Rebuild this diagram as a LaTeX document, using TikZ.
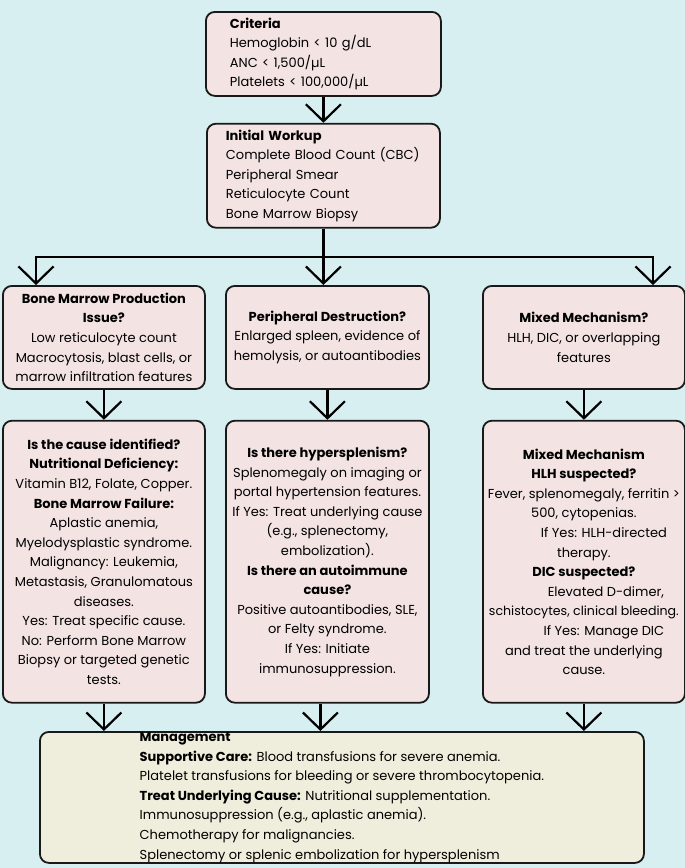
\documentclass[tikz,border=0pt]{standalone}
\usepackage{fontspec}
\setmainfont{Poppins}
\usetikzlibrary{positioning,arrows.meta}

\definecolor{bgcyan}{HTML}{D7EFF0}
\definecolor{boxpink}{HTML}{F3E3E3}
\definecolor{boxcream}{HTML}{EFEDDB}

\tikzset{
  box/.style={draw=black!90, line width=1.8pt, rounded corners=9pt, fill=boxpink,
    inner sep=0pt, align=center, font=\fontsize{13}{19.6}\selectfont},
  flow/.style={line width=2.2pt, line join=miter},
  barb/.tip={Straight Barb[length=17pt,width=35pt]},
  arr/.style={flow, -barb},
}

\begin{document}
\begin{tikzpicture}[x=1pt, y=-1pt]
  \fill[bgcyan] (0,0) rectangle (685,868);
  \useasboundingbox (0,0) rectangle (685,868);

  \node[box, anchor=north west, align=left, text width=187pt, inner xsep=24pt,
    minimum height=84pt] (criteria) at (205,11)
    {\textbf{Criteria}\\Hemoglobin < 10 g/dL\\ANC < 1,500/µL\\Platelets < 100,000/µL};
  \node[box, align=left, text width=195pt, inner xsep=19pt, minimum height=104pt,
    below=26pt of criteria] (workup)
    {\textbf{Initial Workup}\\Complete Blood Count (CBC)\\Peripheral Smear\\Reticulocyte Count\\Bone Marrow Biopsy};

  % first split
  \node[box, anchor=north west, minimum width=202pt, minimum height=103pt] (prod) at (2,285)
    {\textbf{Bone Marrow Production}\\\textbf{Issue?}\\Low reticulocyte count\\Macrocytosis, blast cells, or\\marrow infiltration features};
  \node[box, anchor=north west, minimum width=203pt, minimum height=103pt] (dest) at (225,285)
    {\textbf{Peripheral Destruction?}\\Enlarged spleen, evidence of\\hemolysis, or autoantibodies};
  \node[box, anchor=north west, minimum width=202pt, minimum height=103pt] (mixed) at (482,285)
    {\textbf{Mixed Mechanism?}\\HLH, DIC, or overlapping\\features};

  % second row
  \node[box, minimum width=202pt, minimum height=282pt, below=30pt of prod] (cause)
    {\textbf{Is the cause identified?}\\\textbf{Nutritional Deficiency:}\\Vitamin B12, Folate, Copper.\\
     \textbf{Bone Marrow Failure:}\\Aplastic anemia,\\Myelodysplastic syndrome.\\Malignancy: Leukemia,\\
     Metastasis, Granulomatous\\diseases.\\Yes: Treat specific cause.\\No: Perform Bone Marrow\\
     Biopsy or targeted genetic\\tests.};
  \node[box, minimum width=203pt, minimum height=282pt, below=30pt of dest] (hyper)
    {\textbf{Is there hypersplenism?}\\Splenomegaly on imaging or\\portal hypertension features.\\
     If Yes: Treat underlying cause\\(e.g., splenectomy,\\embolization).\\
     \textbf{Is there an autoimmune}\\\textbf{cause?}\\Positive autoantibodies, SLE,\\
     or Felty syndrome.\\If Yes: Initiate\\immunosuppression.};
  \node[box, minimum width=202pt, minimum height=282pt, below=30pt of mixed] (hlh)
    {\textbf{Mixed Mechanism}\\\textbf{HLH suspected?}\\Fever, splenomegaly, ferritin >\\500, cytopenias.\\
     \hspace*{40pt}If Yes: HLH-directed\\therapy.\\\textbf{DIC suspected?}\\
     \hspace*{44pt}Elevated D-dimer,\\{\fontsize{12.6}{19.6}\selectfont schistocytes, clinical bleeding.}\\
     \hspace*{40pt}If Yes: Manage DIC\\and treat the underlying\\cause.};

  \node[box, fill=boxcream, align=left, anchor=north west, minimum width=604pt,
    minimum height=131pt] (manage) at (39,731)
    {\textbf{Management}\\
     \textbf{Supportive Care:} Blood transfusions for severe anemia.\\
     Platelet transfusions for bleeding or severe thrombocytopenia.\\
     \textbf{Treat Underlying Cause:} Nutritional supplementation.\\
     Immunosuppression (e.g., aplastic anemia).\\
     Chemotherapy for malignancies.\\
     Splenectomy or splenic embolization for hypersplenism};

  % connectors
  \coordinate (busL) at (36,257);
  \coordinate (busR) at (653,257);
  \draw[arr] (criteria.south) -- (workup.north);
  \draw[flow] (workup.south) -- (workup.south |- busL);
  \draw[flow, barb-barb] (busL |- prod.north) -- (busL) -- (busR) -- (busR |- mixed.north);
  \draw[arr] (workup.south |- busL) -- (workup.south |- dest.north);
  \draw[arr] (prod.south) -- (cause.north);
  \draw[arr] (dest.south) -- (hyper.north);
  \draw[arr] (mixed.south) -- (hlh.north);
  \draw[arr] (cause.south) -- (cause.south |- manage.north);
  \draw[arr] ([xshift=-7pt]hyper.south) -- ([xshift=-7pt]hyper.south |- manage.north);
  \draw[arr] (hlh.south) -- (hlh.south |- manage.north);
\end{tikzpicture}
\end{document}
